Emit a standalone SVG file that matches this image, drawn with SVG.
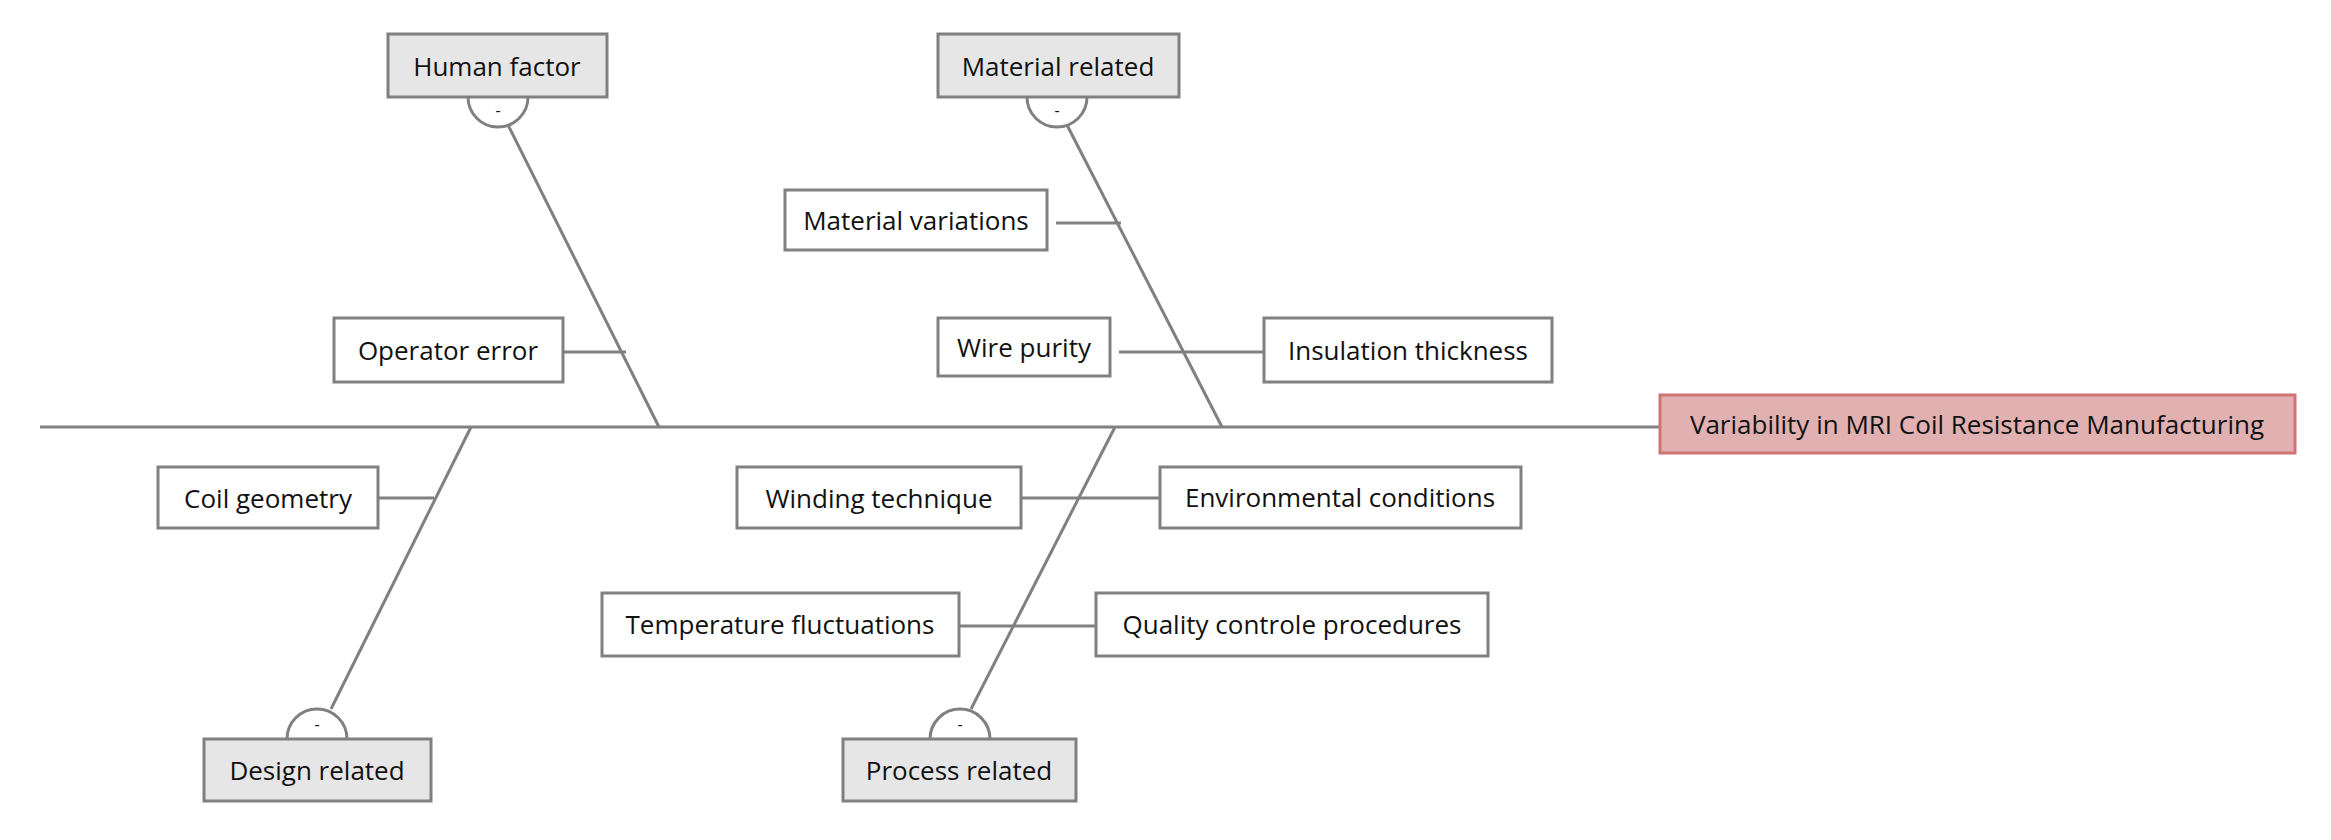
<svg xmlns="http://www.w3.org/2000/svg" width="2331" height="840" viewBox="0 0 2331 840">
<style>
.b{fill:#fff;stroke:#808080;stroke-width:3}
.c{fill:#e6e6e6;stroke:#808080;stroke-width:3}
.e{fill:#e1b1b1;stroke:#d07272;stroke-width:3}
.l{stroke:#808080;stroke-width:3;fill:none}
text{font-family:"Open Sans","Liberation Sans",sans-serif;font-size:26px;fill:#111;text-anchor:middle;dominant-baseline:central}
.m{font-size:16px}
</style>
<rect width="2331" height="840" fill="#fff"/>
<g id="connectors">
<line class="l" x1="40" y1="427" x2="1660" y2="427"/>
<line class="l" x1="508" y1="125" x2="659" y2="427"/>
<line class="l" x1="1067" y1="125" x2="1222" y2="427"/>
<line class="l" x1="471" y1="427" x2="331" y2="709"/>
<line class="l" x1="1115" y1="427" x2="971" y2="709"/>
<line class="l" x1="563" y1="352" x2="626" y2="352"/>
<line class="l" x1="1056" y1="223" x2="1121" y2="223"/>
<line class="l" x1="1119" y1="352" x2="1264" y2="352"/>
<line class="l" x1="378" y1="498" x2="434" y2="498"/>
<line class="l" x1="1021" y1="498" x2="1160" y2="498"/>
<line class="l" x1="959" y1="626" x2="1096" y2="626"/>
<path class="l" d="M468,97 A30,30 0 0 0 528,97"/>
<path class="l" d="M1027,97 A30,30 0 0 0 1087,97"/>
<path class="l" d="M287,739 A30,30 0 0 1 347,739"/>
<path class="l" d="M930,739 A30,30 0 0 1 990,739"/>
<text class="m" x="498" y="110">-</text>
<text class="m" x="1057" y="110">-</text>
<text class="m" x="317" y="724">-</text>
<text class="m" x="960" y="724">-</text>
</g>
<g id="effect"><rect class="e" x="1660" y="395" width="635" height="58"/><text x="1977" y="424">Variability in MRI Coil Resistance Manufacturing</text></g>
<g id="human"><rect class="c" x="388" y="34" width="219" height="63"/><text x="497" y="66">Human factor</text></g>
<g id="material"><rect class="c" x="938" y="34" width="241" height="63"/><text x="1058" y="66">Material related</text></g>
<g id="design"><rect class="c" x="204" y="739" width="227" height="62"/><text x="317" y="770">Design related</text></g>
<g id="process"><rect class="c" x="843" y="739" width="233" height="62"/><text x="959" y="770">Process related</text></g>
<g id="operator"><rect class="b" x="334" y="318" width="229" height="64"/><text x="448" y="350">Operator error</text></g>
<g id="matvar"><rect class="b" x="785" y="190" width="262" height="60"/><text x="916" y="220">Material variations</text></g>
<g id="wire"><rect class="b" x="938" y="318" width="172" height="58"/><text x="1024" y="347">Wire purity</text></g>
<g id="insulation"><rect class="b" x="1264" y="318" width="288" height="64"/><text x="1408" y="350">Insulation thickness</text></g>
<g id="coil"><rect class="b" x="158" y="467" width="220" height="61"/><text x="268" y="498">Coil geometry</text></g>
<g id="winding"><rect class="b" x="737" y="467" width="284" height="61"/><text x="879" y="498">Winding technique</text></g>
<g id="env"><rect class="b" x="1160" y="467" width="361" height="61"/><text x="1340" y="497">Environmental conditions</text></g>
<g id="temp"><rect class="b" x="602" y="593" width="357" height="63"/><text x="780" y="624">Temperature fluctuations</text></g>
<g id="quality"><rect class="b" x="1096" y="593" width="392" height="63"/><text x="1292" y="624">Quality controle procedures</text></g>
</svg>
